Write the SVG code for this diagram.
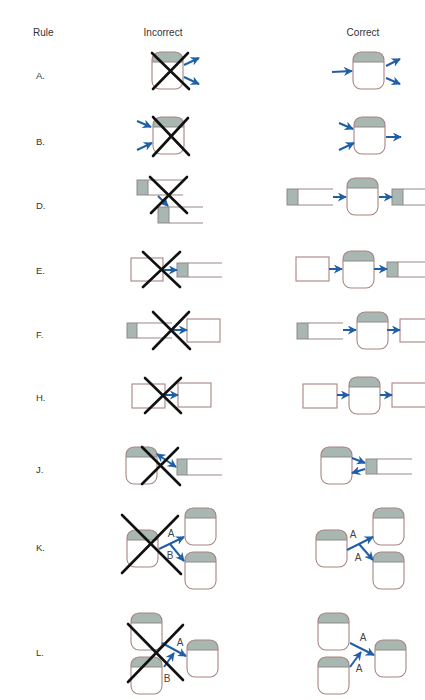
<svg xmlns="http://www.w3.org/2000/svg" xmlns:xlink="http://www.w3.org/1999/xlink" width="425" height="700" viewBox="0 0 425 700">
<style>
text{font-family:"Liberation Sans",Arial,sans-serif;fill:#333;}
.hd{font-size:10px;}
.rl{font-size:9.5px;}
.lb{font-size:10px;fill:#444;}
.ext{fill:#fff;stroke:#a88480;stroke-width:1.1;}
.dsg{fill:#a9b7b3;stroke:#8f8a88;stroke-width:1;}
.dsl{fill:none;stroke:#9a8a88;stroke-width:1.1;}
.ar{fill:none;stroke:#1f5fa8;stroke-width:2;marker-end:url(#ah);}
.ar2{fill:none;stroke:#1f5fa8;stroke-width:2;marker-end:url(#ah);marker-start:url(#ah);}
.x{stroke:#111;stroke-width:2.6;stroke-linecap:round;}
</style>
<defs>
<marker id="ah" viewBox="0 0 10 10" refX="9" refY="5" markerWidth="9" markerHeight="9" markerUnits="userSpaceOnUse" orient="auto-start-reverse">
<path d="M0,0 L10,5 L0,10 L3,5 z" fill="#1f5fa8"/>
</marker>
<g id="proc">
<rect x="0" y="0" width="31" height="37" rx="8" fill="#fff"/>
<path d="M0,10 V8 Q0,0 8,0 H23 Q31,0 31,8 V10 Z" fill="#a9b7b3"/>
<path d="M0,10 H31" stroke="#8f8a88" stroke-width="1"/>
<rect x="0" y="0" width="31" height="37" rx="8" fill="none" stroke="#a88480" stroke-width="1.1"/>
</g>
</defs>
<rect width="425" height="700" fill="#fff"/>

<g id="headers">
<text class="hd" x="33" y="36">Rule</text>
<text class="hd" x="163" y="36" text-anchor="middle">Incorrect</text>
<text class="hd" x="363" y="36" text-anchor="middle">Correct</text>
</g>
<g id="rules">
<text class="rl" x="36" y="79">A.</text>
<text class="rl" x="36" y="145">B.</text>
<text class="rl" x="36" y="209">D.</text>
<text class="rl" x="36" y="274">E.</text>
<text class="rl" x="36" y="338">F.</text>
<text class="rl" x="36" y="401">H.</text>
<text class="rl" x="36" y="473">J.</text>
<text class="rl" x="36" y="551">K.</text>
<text class="rl" x="36" y="656">L.</text>
</g>

<!-- process nodes -->
<g id="pA_inc"><use xlink:href="#proc" x="152" y="52"/></g>
<g id="pB_inc"><use xlink:href="#proc" x="153" y="117"/></g>
<g id="pA_cor"><use xlink:href="#proc" x="353" y="52"/></g>
<g id="pB_cor"><use xlink:href="#proc" x="354" y="117"/></g>
<g id="pD_cor"><use xlink:href="#proc" x="347" y="178"/></g>
<g id="pE_cor"><use xlink:href="#proc" x="343" y="251"/></g>
<g id="pF_cor"><use xlink:href="#proc" x="357" y="312"/></g>
<g id="pH_cor"><use xlink:href="#proc" x="349" y="377"/></g>
<g id="pJ_inc"><use xlink:href="#proc" x="126" y="447"/></g>
<g id="pJ_cor"><use xlink:href="#proc" x="321" y="447"/></g>
<g id="pK_inc1"><use xlink:href="#proc" x="127" y="530"/></g>
<g id="pK_inc2"><use xlink:href="#proc" x="185" y="508"/></g>
<g id="pK_inc3"><use xlink:href="#proc" x="185" y="552"/></g>
<g id="pK_cor1"><use xlink:href="#proc" x="316" y="530"/></g>
<g id="pK_cor2"><use xlink:href="#proc" x="373" y="508"/></g>
<g id="pK_cor3"><use xlink:href="#proc" x="373" y="552"/></g>
<g id="pL_inc1"><use xlink:href="#proc" x="131" y="613"/></g>
<g id="pL_inc2"><use xlink:href="#proc" x="131" y="657"/></g>
<g id="pL_inc3"><use xlink:href="#proc" x="187" y="640"/></g>
<g id="pL_cor1"><use xlink:href="#proc" x="318" y="613"/></g>
<g id="pL_cor2"><use xlink:href="#proc" x="318" y="657"/></g>
<g id="pL_cor3"><use xlink:href="#proc" x="375" y="640"/></g>

<!-- data stores -->
<g id="dD_inc1"><rect class="dsg" x="137" y="180" width="11" height="15"/><path class="dsl" d="M148,180 H183 M148,195 H183"/></g>
<g id="dD_inc2"><rect class="dsg" x="158" y="207" width="11" height="16"/><path class="dsl" d="M169,207 H203 M169,223 H203"/></g>
<g id="dD_cor1"><rect class="dsg" x="287" y="189" width="11" height="16"/><path class="dsl" d="M298,189 H333 M298,205 H333"/></g>
<g id="dD_cor2"><rect class="dsg" x="392" y="189" width="11" height="16"/><path class="dsl" d="M403,189 H430 M403,205 H430"/></g>
<g id="dE_inc"><rect class="dsg" x="177" y="263" width="11" height="14"/><path class="dsl" d="M188,263 H222 M188,277 H222"/></g>
<g id="dE_cor"><rect class="dsg" x="387" y="262" width="11" height="15"/><path class="dsl" d="M398,262 H430 M398,277 H430"/></g>
<g id="dF_inc"><rect class="dsg" x="127" y="323" width="10" height="15"/><path class="dsl" d="M137,323 H172 M137,338 H172"/></g>
<g id="dF_cor"><rect class="dsg" x="297" y="323" width="11" height="16"/><path class="dsl" d="M308,323 H343 M308,339 H343"/></g>
<g id="dJ_inc"><rect class="dsg" x="177" y="459" width="10" height="16"/><path class="dsl" d="M187,459 H222 M187,475 H222"/></g>
<g id="dJ_cor"><rect class="dsg" x="366" y="459" width="11" height="15"/><path class="dsl" d="M377,459 H412 M377,474 H412"/></g>

<!-- external entities -->
<g id="eE_inc"><rect class="ext" x="131" y="258" width="32" height="23"/></g>
<g id="eF_inc"><rect class="ext" x="187" y="319" width="33" height="23"/></g>
<g id="eH_inc1"><rect class="ext" x="132" y="384" width="33" height="24"/></g>
<g id="eH_inc2"><rect class="ext" x="178" y="383" width="33" height="24"/></g>
<g id="eE_cor"><rect class="ext" x="296" y="257" width="33" height="24"/></g>
<g id="eF_cor"><rect class="ext" x="400" y="319" width="35" height="23"/></g>
<g id="eH_cor1"><rect class="ext" x="303" y="384" width="34" height="24"/></g>
<g id="eH_cor2"><rect class="ext" x="392" y="383" width="40" height="24"/></g>

<g id="connectors">
<path class="ar" d="M184,65 L199,58"/>
<path class="ar" d="M184,77 L199,84"/>
<path class="ar" d="M137,121 L151,127"/>
<path class="ar" d="M137,150 L152,143"/>
<path class="ar" d="M332,72 L352,71"/>
<path class="ar" d="M386,66 L400,59"/>
<path class="ar" d="M386,78 L400,84"/>
<path class="ar" d="M339,123 L353,129"/>
<path class="ar" d="M339,150 L354,143"/>
<path class="ar" d="M386,137 L401,137"/>
<path class="ar" d="M158,196 L168,206"/>
<path class="ar" d="M333,197 L346,197"/>
<path class="ar" d="M379,197 L392,197"/>
<path class="ar" d="M163,270 L177,270"/>
<path class="ar" d="M329,269 L342,269"/>
<path class="ar" d="M374,269 L387,269"/>
<path class="ar" d="M172,330 L187,330"/>
<path class="ar" d="M343,330 L356,330"/>
<path class="ar" d="M387,330 L400,330"/>
<path class="ar" d="M165,395 L178,395"/>
<path class="ar" d="M337,395 L349,395"/>
<path class="ar" d="M380,395 L392,395"/>
<path class="ar2" d="M157,454 L176,467"/>
<path class="ar" d="M352,458 L365,463"/>
<path class="ar" d="M365,469 L352,473"/>
<path class="ar" d="M159,549 L184,537"/>
<path class="ar" d="M170,544 L184,561"/>
<path class="ar" d="M347,550 L373,537"/>
<path class="ar" d="M359,544 L373,560"/>
<path class="ar" d="M162,643 L186,656"/>
<path class="ar" d="M164,667 L174,653"/>
<path class="ar" d="M350,643 L374,655"/>
<path class="ar" d="M350,667 L361,652"/>
</g>

<g id="labels">
<text class="lb" x="171" y="537" text-anchor="middle">A</text>
<text class="lb" x="170" y="559" text-anchor="middle">B</text>
<text class="lb" x="353" y="538" text-anchor="middle">A</text>
<text class="lb" x="358" y="561" text-anchor="middle">A</text>
<text class="lb" x="180" y="646" text-anchor="middle">A</text>
<text class="lb" x="167" y="682" text-anchor="middle">B</text>
<text class="lb" x="363" y="641" text-anchor="middle">A</text>
<text class="lb" x="359" y="672" text-anchor="middle">A</text>
</g>

<g id="crosses">
<path class="x" d="M152,53 L189,89 M188,53 L153,89"/>
<path class="x" d="M153,117 L189,155 M188,118 L153,156"/>
<path class="x" d="M150,177 L187,213 M187,177 L151,213"/>
<path class="x" d="M143,252 L180,287 M180,252 L143,287"/>
<path class="x" d="M153,312 L190,349 M189,312 L153,349"/>
<path class="x" d="M145,378 L181,413 M181,378 L145,413"/>
<path class="x" d="M142,447 L180,485 M178,448 L142,484"/>
<path class="x" d="M122,515 L181,574 M178,516 L122,573"/>
<path class="x" d="M128,624 L183,680 M183,625 L128,682"/>
</g>
</svg>
